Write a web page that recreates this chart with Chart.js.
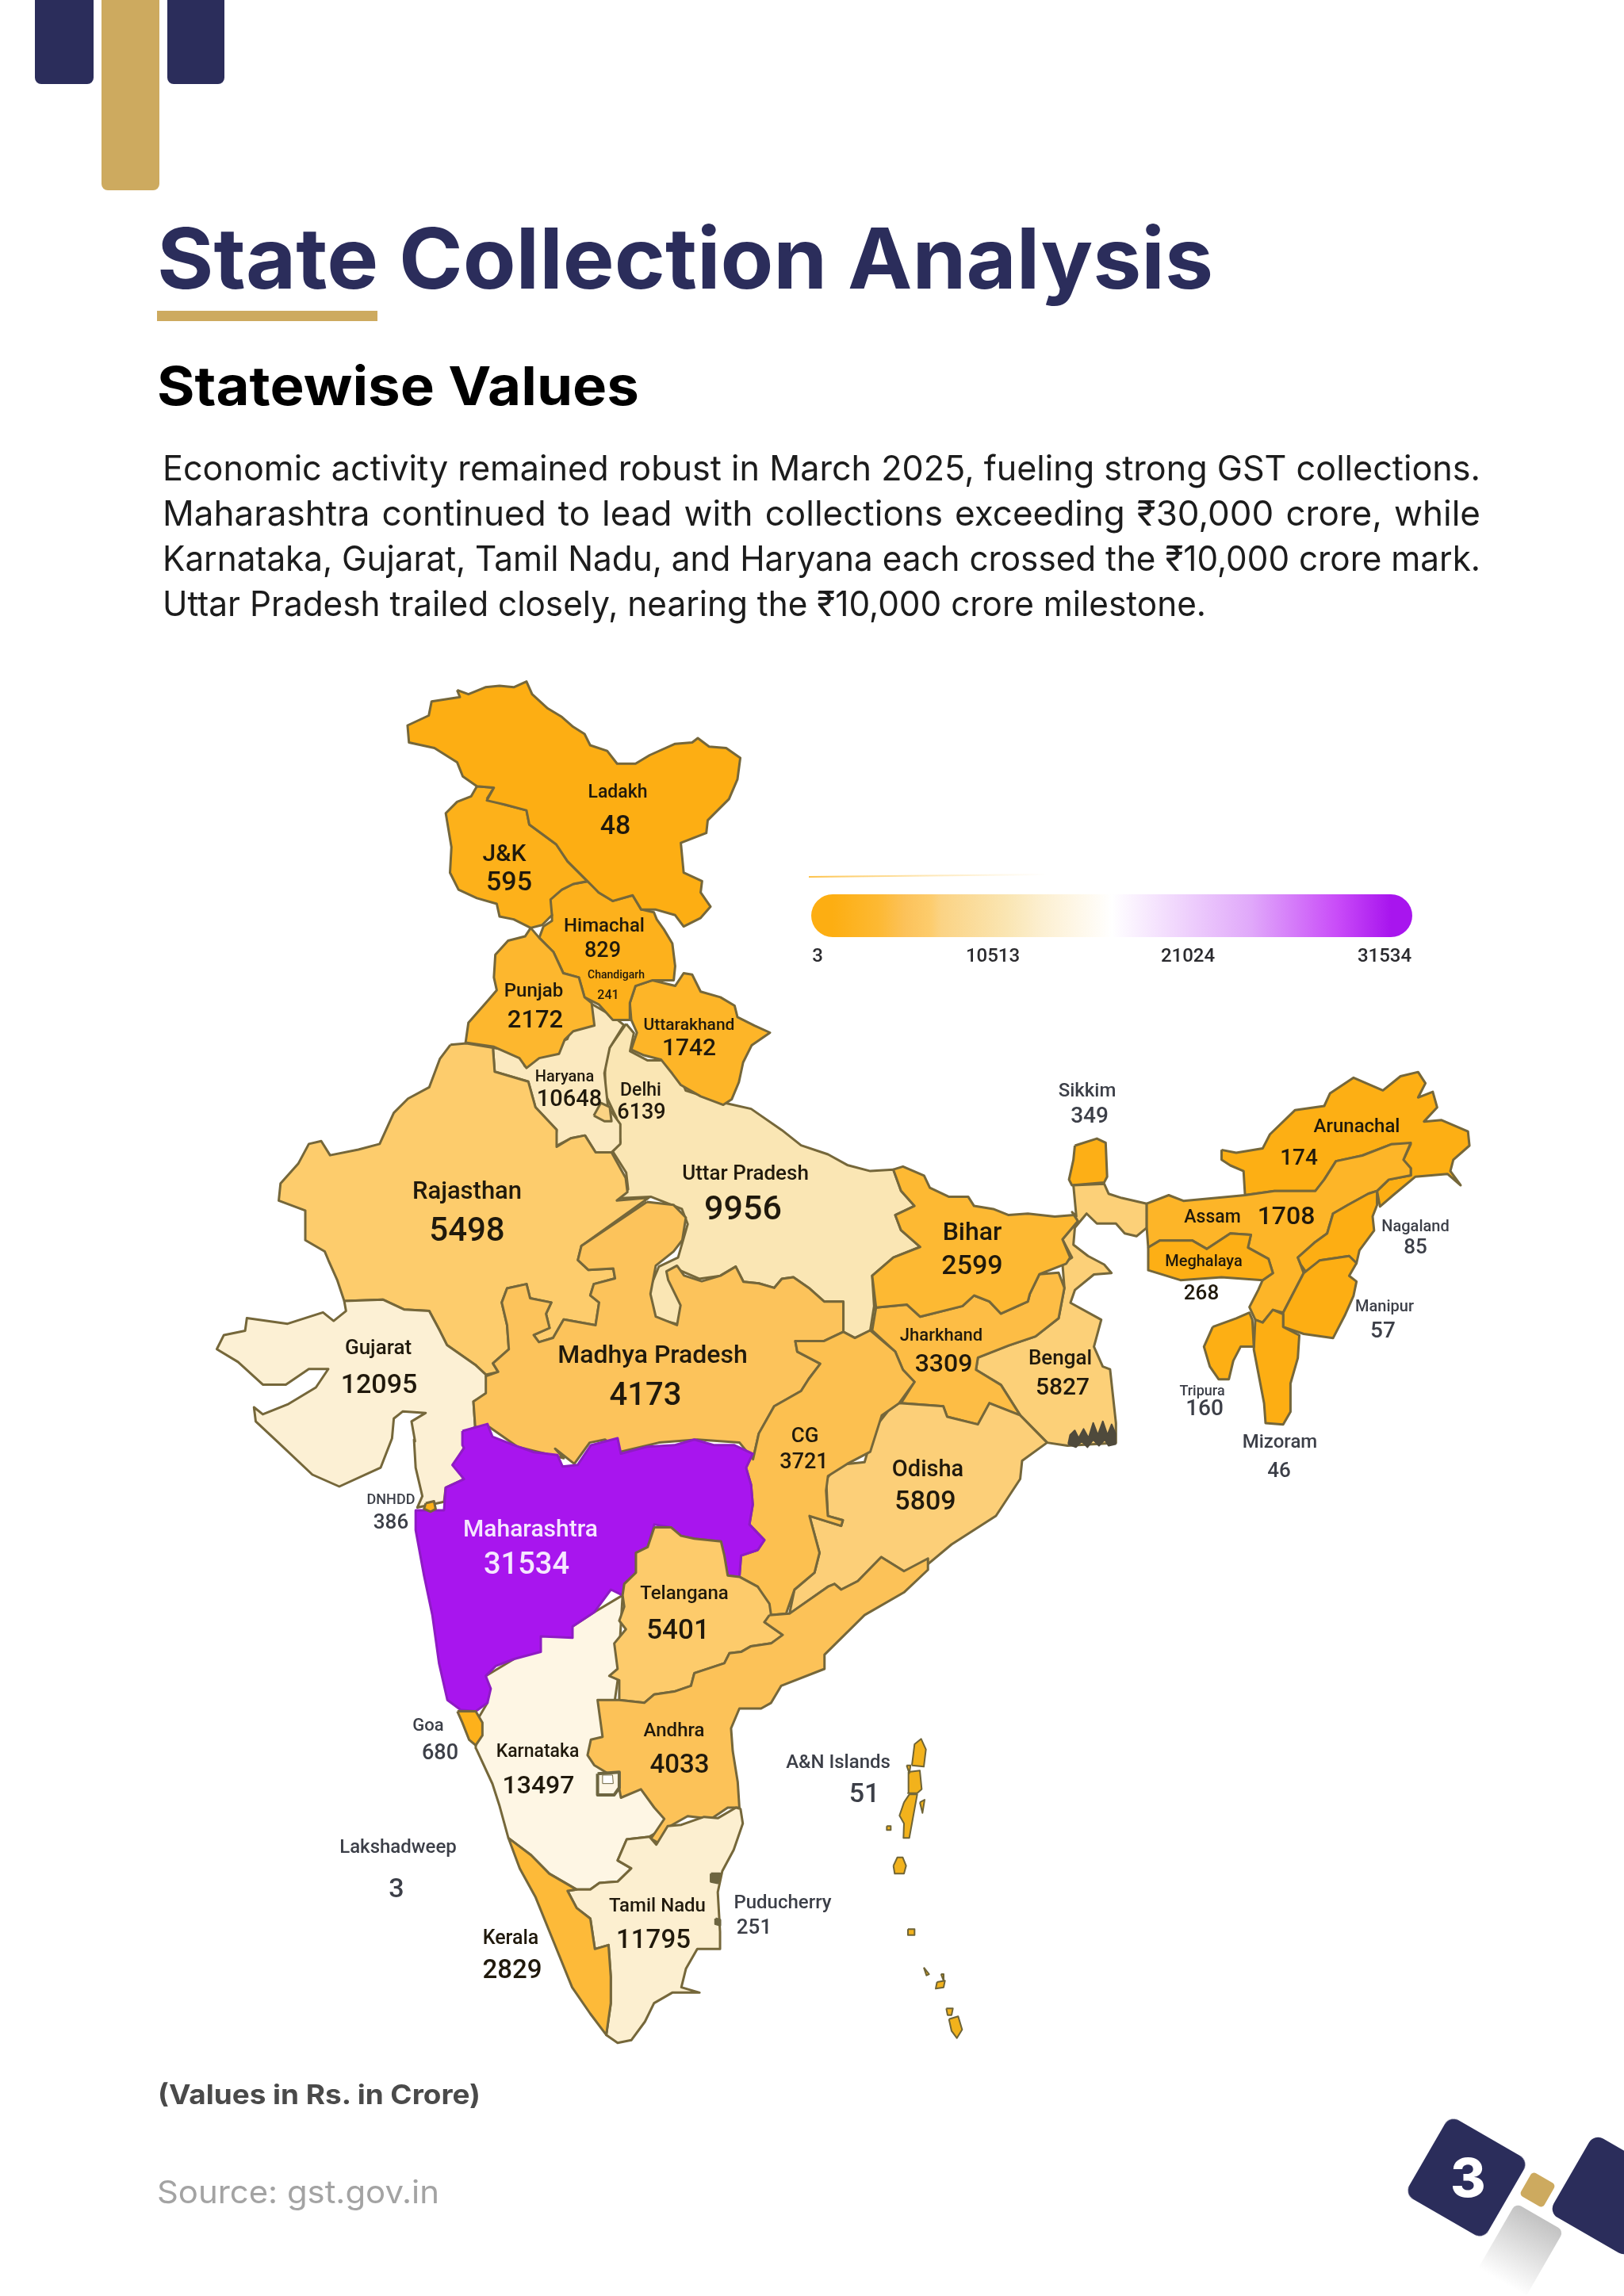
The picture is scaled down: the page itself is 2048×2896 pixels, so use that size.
<!DOCTYPE html>
<html><head><meta charset="utf-8">
<style>
html,body{margin:0;padding:0;background:#fff}
#page{position:relative;width:2048px;height:2896px;overflow:hidden;background:#fff}
#map{position:absolute;left:0;top:0}
.t{position:absolute;white-space:pre;transform-origin:0 0;line-height:1;font-family:Inter,"Noto Sans",sans-serif}
.b{position:absolute}
</style>
<script src="https://cdn.jsdelivr.net/npm/chart.js@4"></script>
</head><body><div id="page">
<div class="b" style="left:44px;top:-10px;width:74px;height:116px;background:#2B2D5B;border-radius:8px"></div>
<div class="b" style="left:211px;top:-10px;width:72px;height:116px;background:#2B2D5B;border-radius:8px"></div>
<div class="b" style="left:128px;top:-10px;width:73px;height:250px;background:#CDAA5F;border-radius:8px"></div>
<div class="b" style="left:198px;top:392px;width:278px;height:13px;background:#CDAA5F"></div>
<canvas id="map" width="2048" height="2896" style="width:2048px;height:2896px"></canvas>
<div class="b" style="left:1792px;top:2689px;width:115px;height:115px;background:#2B2D5B;border-radius:13px;transform:rotate(30deg)"></div>
<div class="b" style="left:1974px;top:2712px;width:115px;height:115px;background:#2B2D5B;border-radius:13px;transform:rotate(30deg)"></div>
<div class="b" style="left:1922px;top:2745px;width:34px;height:34px;background:#CDAA5F;border-radius:5px;transform:rotate(30deg)"></div>
<div class="b" style="left:1883px;top:2790px;width:70px;height:95px;background:linear-gradient(180deg,#c2c2c2,#ffffff);border-radius:8px 8px 0 0;transform:rotate(30deg)"></div>
<div class="t" data-fit="1332" style="left:198px;top:273px;font-size:106px;font-weight:700;color:#2B2D5B">State Collection Analysis</div>
<div class="t" data-fit="608" style="left:198px;top:452px;font-size:68px;font-weight:700;color:#000">Statewise Values</div>
<div class="t" data-justify="1662" style="left:205px;top:568px;font-size:44px;color:#1c1c1c">Economic activity remained robust in March 2025, fueling strong GST collections.</div>
<div class="t" data-justify="1662" style="left:205px;top:625px;font-size:44px;color:#1c1c1c">Maharashtra continued to lead with collections exceeding ₹30,000 crore, while</div>
<div class="t" data-justify="1662" style="left:205px;top:682px;font-size:44px;color:#1c1c1c">Karnataka, Gujarat, Tamil Nadu, and Haryana each crossed the ₹10,000 crore mark.</div>
<div class="t" data-justify="1316" style="left:205px;top:739px;font-size:44px;color:#1c1c1c">Uttar Pradesh trailed closely, nearing the ₹10,000 crore milestone.</div>
<div class="t" data-fit="407" style="left:199px;top:2625px;font-size:34px;font-weight:700;color:#4a4a4a">(Values in Rs. in Crore)</div>
<div class="t" data-fit="356" style="left:198px;top:2745px;font-size:40px;color:#a3a3a3">Source: gst.gov.in</div>
<div class="t" style="left:1829px;top:2712px;font-size:68px;font-weight:800;color:#fff">3</div>
</div>
<script>
// ---------- chart values ----------
const stateNames = ['Ladakh','J&K','Himachal','Chandigarh','Punjab','Uttarakhand','Haryana','Delhi','Rajasthan','Gujarat','Madhya Pradesh','Uttar Pradesh','Sikkim','Bihar','Jharkhand','Bengal','CG','Odisha','Arunachal','Assam','Nagaland','Meghalaya','Manipur','Tripura','Mizoram','Maharashtra','Telangana','DNHDD','Goa','Karnataka','Andhra','A&N Islands','Lakshadweep','Tamil Nadu','Puducherry','Kerala'];
const stateValues = [48,595,829,241,2172,1742,10648,6139,5498,12095,4173,9956,349,2599,3309,5827,3721,5809,174,1708,85,268,57,160,46,31534,5401,386,680,13497,4033,51,3,11795,251,2829];
const legendTicks = [3,10513,21024,31534];
const colourValues = [3,2600,4100,5500,6139,9956,11795,13497,15768,23651,28500,31534];
const colourStops = ['#FDAE12','#FDB933','#FCC25A','#FDCC6C','#FBD384','#FAE6B4','#FCEFD0','#FEF6E4','#FFFFFF','#E0A8FA','#C94CF8','#A815EE'];

// ---------- label anchors, in map units ----------
const nameAnchors = [[779,998],[636,1076],[762,1167],[777,1228],[673,1249],[869,1292],[712,1357],[808,1374],[589,1502],[477,1699],[823,1709],[940,1479],[1371,1375],[1226,1554],[1187,1683],[1337,1712],[1015,1810],[1170,1853],[1711,1420],[1529,1534],[1785,1546],[1518,1590],[1746,1647],[1516,1753],[1614,1818],[669,1928],[863,2009],[493,1890],[540,2175],[678,2208],[850,2182],[1057,2222],[502,2329],[829,2403],[987,2399],[644,2444]];
const valueAnchors = [[776,1041],[642,1112],[760,1198],[767,1254],[675,1286],[869,1321],[718,1386],[809,1402],[589,1552],[478,1746],[814,1760],[937,1525],[1374,1407],[1226,1596],[1190,1720],[1340,1749],[1014,1843],[1167,1893],[1638,1460],[1622,1534],[1785,1572],[1515,1630],[1744,1678],[1519,1776],[1613,1854],[664,1973],[855,2056],[493,1919],[555,2210],[679,2252],[857,2226],[1090,2262],[500,2382],[824,2447],[951,2430],[646,2485]];
const nameSizes = [23,30,24,14,24,21,20,23,31,26,32,26,24,32,22,26,26,29,24,23,20,20,20,18,24,30,24,18,22,23,24,24,24,24,24,25];
const valueSizes = [34,34,27,16,31,30,29,27,42,34,40,43,28,34,32,30,27,34,28,32,26,26,28,28,26,38,35,26,27,32,33,34,34,33,26,33];
const legendTickAnchors = [1031,1252,1498,1746];
const outsideLabels = ['Sikkim','Nagaland','Manipur','Tripura','Mizoram','DNHDD','Goa','A&N Islands','Lakshadweep','Puducherry'];

const view = (ox,oy,sx,sy) => flat => { const r=[]; for(let i=0;i<flat.length;i+=2) r.push({x:ox+flat[i]/sx,y:oy+flat[i+1]/sy}); return r; };
const n = view(480,840,2.8,2.8), w = view(260,1300,2.24,2.8), c = view(700,1280,2.063,2.613), e = view(1300,1320,2.703,2.8), s = view(480,1780,2.376,2.8), t = view(400,2100,1.742,3), a = view(1000,2150,3,3);

const outlines = [
['Uttar Pradesh', c([185,30,205,60,195,120,240,150,290,150,320,190,340,250,440,290,510,310,590,380,640,430,710,460,760,495,820,515,880,510,900,580,935,630,885,660,900,710,950,765,880,800,825,860,830,960,820,1040,780,1065,750,1045,750,945,700,945,660,900,620,865,590,870,570,900,530,885,490,880,470,830,430,860,375,870,320,840,305,880,335,970,320,1020,260,1000,240,920,270,830,320,800,345,690,330,640,250,600,160,605,190,575,185,520,150,450,170,420,160,340,130,260,130,130])],
['Haryana', w([810,60,815,145,910,180,930,270,990,350,985,410,1030,380,1070,370,1100,430,1145,430,1170,400,1170,330,1135,270,1125,150,1140,60,1180,-20,1150,-50,1084,-98,1040,-30,1020,30,960,60,900,125,880,75])],
['Delhi', w([1095,300,1115,255,1140,270,1145,320,1125,320])],
['Uttarakhand', n([885,1250,880,1190,900,1130,960,1110,1040,1130,1070,1085,1100,1090,1130,1150,1200,1170,1250,1200,1260,1240,1320,1270,1375,1295,1310,1340,1280,1400,1265,1470,1240,1530,1210,1550,1130,1520,1060,1480,1030,1440,990,1390,930,1375,885,1355,905,1295])],
['Himachal', n([590,825,640,790,680,770,735,760,770,800,820,830,890,810,920,860,965,870,975,895,1000,930,1030,980,1040,1060,1035,1110,960,1110,900,1130,880,1190,880,1250,820,1250,770,1195,720,1170,700,1100,645,1085,610,1010,560,960,575,920,605,900,605,880])],
['Punjab', n([530,925,560,960,610,1010,645,1085,700,1100,720,1170,745,1190,755,1270,680,1290,650,1320,630,1370,560,1385,515,1420,490,1385,400,1345,300,1330,310,1260,380,1180,410,1145,400,1100,405,1020,450,970,510,955])],
['J&K', n([375,470,440,490,515,510,525,560,620,630,660,690,730,760,680,770,640,790,600,825,605,880,570,915,530,925,470,895,420,885,410,840,340,820,275,790,245,730,250,640,230,520,270,480,320,460,340,425,400,430])],
['Ladakh', n([270,85,310,100,370,75,420,70,470,75,515,55,535,100,590,150,640,180,680,215,720,240,740,280,800,300,835,345,900,345,950,315,1040,275,1100,270,1120,255,1160,285,1220,290,1270,325,1260,400,1230,470,1190,510,1155,545,1150,590,1060,625,1070,730,1135,760,1130,800,1165,850,1130,890,1070,920,1040,880,970,860,920,860,890,810,820,830,770,800,730,760,660,690,620,630,525,560,515,510,440,490,375,475,400,430,340,425,290,390,270,340,190,290,100,270,95,210,170,175,180,125,280,110])],
['Rajasthan', w([690,50,735,45,810,60,815,145,910,180,930,270,990,350,990,410,1030,380,1070,370,1100,430,1145,430,1185,520,1190,570,1160,600,1250,590,1060,760,1050,810,1080,845,1150,840,1155,875,1095,895,1085,935,1110,960,1100,1040,1010,1020,980,1085,940,1100,925,1075,970,1050,960,1000,975,960,915,945,905,895,850,910,835,960,850,1040,855,1125,810,1175,825,1205,790,1215,760,1180,680,1110,660,1060,630,990,560,985,500,950,390,955,370,880,345,810,335,780,280,740,280,635,205,600,210,540,260,470,290,400,325,390,350,440,430,420,490,400,530,290,570,240,630,200,660,100])],
['Gujarat', [...w([390,955,500,950,560,985,630,990,660,1060,680,1110,760,1180,790,1215,800,1280,755,1310,760,1400,725,1420,730,1470,700,1530]),...s([250,240,195,270,190,320,110,340,125,300,105,200,100,100]),...w([590,1450,580,1380,620,1350,555,1345,530,1370,525,1440,493,1543,376,1610,300,1568,200,1450,140,1380,135,1330,160,1355,230,1320,310,1260,345,1195,290,1195,225,1250,160,1250,90,1170,30,1125,50,1075,110,1060,115,1015,230,1035,330,995,360,1025,395,990])]],
['Madhya Pradesh', [...w([1245,605,1320,615,1355,660,1345,740,1320,780,1270,830,1255,930,1270,1010,1330,1040,1340,970,1305,880,1300,850,1330,830,1350,865,1400,885]),...c([430,860,470,830,490,880,530,885,570,900,590,870,620,865,660,900,700,945,750,945,750,1045,700,1075,625,1075,630,1110,690,1150,660,1200,640,1240,570,1290,530,1380,515,1465,480,1410,370,1400,270,1410,170,1440,130,1400,90,1410,50,1480,0,1430]),...w([1010,1510,880,1470,800,1400,760,1400,755,1310,790,1280,790,1220,825,1205,810,1175,855,1125,850,1040,835,960,850,910,905,895,915,945,975,960,960,1000,970,1050,925,1075,940,1100,980,1085,1010,1020,1100,1040,1110,960,1085,935,1095,895,1155,875,1150,840,1080,845,1050,810,1060,760])]],
['Sikkim', e([150,350,225,325,255,340,260,460,250,480,140,490,130,470,145,400])],
['Bengal', [...e([145,490,250,485,265,520,310,535,395,555,395,640,360,670,320,660,290,625,225,625,190,590,150,640,145,700,195,740,250,770,275,800,215,805,150,860,135,905,240,965,215,1060,245,1130,270,1140,290,1330,290,1400,125,1410]),...c([1280,1410,1210,1320,1160,1220,1095,1170,1100,1130,1180,1090,1250,1060,1310,1000,1325,900,1320,820,1345,800,1320,740,1360,680,1345,650]),...e([155,600])]],
['Jharkhand', c([835,965,915,955,950,995,1060,960,1090,925,1130,945,1160,985,1230,945,1235,920,1260,855,1310,850,1325,900,1310,1000,1250,1060,1180,1090,1100,1130,1095,1170,1160,1220,1210,1320,1130,1280,1100,1350,1020,1325,1010,1290,900,1280,935,1210,905,1170,885,1110,825,1040])],
['Bihar', c([880,510,905,500,960,530,975,570,1025,600,1075,600,1090,630,1140,640,1180,660,1230,655,1300,665,1350,660,1360,680,1320,740,1340,800,1330,820,1260,855,1235,920,1230,945,1160,985,1130,945,1090,925,1060,960,950,995,915,955,835,965,825,860,880,800,950,765,900,710,885,660,935,630,900,580])],
['Odisha', [...c([895,1280,1010,1290,1020,1325,1100,1350,1130,1280,1210,1320,1280,1410,1215,1470,1210,1530]),{x:1256,y:1912},{x:1200,y:1948},...s([1640,540,1568,565,1500,515,1430,600,1380,630,1360,610,1340,620,1225,715,1240,630,1300,570,1315,500,1285,370,1380,405,1385,385,1340,370,1335,240,1370,190,1450,180,1480,60,1520,0]),...c([850,1320])]],
['CG', [...c([515,1465,530,1380,570,1290,640,1240,660,1200,690,1150,630,1110,625,1075,700,1075,750,1045,780,1065,820,1040,885,1110,905,1170,935,1210,895,1280,850,1320,820,1440,760,1480,710,1520,705,1568]),...s([1340,370,1385,385,1380,405,1285,370,1315,500,1300,570,1240,630,1215,715,1165,720,1130,620,1075,585,1080,510,1130,490,1150,455,1105,400,1115,330,1110,260,1095,200,1115,150])]],
['Karnataka', [...s([725,650,640,710,575,760,480,795,400,875,315,935,320,1030,285,1100,285,1190]),...t([350,320,385,450,400,530,420,655,470,720,510,790,570,850,600,850,620,825,660,820,690,770,660,740,680,660,730,650,770,610,750,500,640,300,660,60])]],
['Maharashtra', s([245,70,320,45,335,90,400,120,460,145,530,155,545,195,590,190,630,120,710,95,720,150,800,125,880,120,940,100,1000,120,1060,120,1115,150,1095,200,1110,260,1115,330,1105,400,1150,455,1130,490,1080,510,1075,585,1040,580,1030,510,1020,460,940,450,900,440,870,410,820,400,800,480,765,500,765,570,730,610,725,650,690,630,640,710,575,760,575,800,480,795,480,850,400,875,345,900,315,935,330,980,320,1030,285,1060,240,1055,200,1020,175,890,155,720,130,580,105,420,105,350,190,350,195,270,250,240,215,190,250,130,245,120])],
['Telangana', s([820,410,870,410,900,440,940,450,1020,460,1030,510,1040,580,1075,585,1130,620,1165,680,1170,720,1150,745,1205,790,1170,820,1110,830,1080,850,1045,855,1030,890,940,925,930,970,880,990,820,1000,790,1030,715,1020,715,950,685,935,710,910,700,820,735,770,715,740,730,690,725,650,730,610,765,570,765,500,800,480])],
['Andhra', s([1165,720,1225,715,1340,620,1360,610,1380,630,1430,600,1500,515,1568,565,1640,520,1640,560,1568,640,1450,720,1390,790,1330,860,1330,910,1200,970,1170,1030,1140,1050,1075,1050,1050,1120,1055,1200,1070,1310,1075,1400,1040,1400,990,1440,920,1430,860,1470,840,1530,810,1510,850,1440,820,1400,780,1335,720,1365,710,1300,640,1250,620,1215,630,1160,665,1150,650,1020,715,1020,790,1030,820,1000,880,990,930,970,940,925,1030,890,1045,855,1080,850,1110,830,1170,820,1205,790,1150,745])],
['Goa', s([230,1060,285,1060,305,1100,305,1145,285,1180,265,1160,245,1100])],
['Tamil Nadu', t([570,850,600,850,620,825,660,820,690,770,660,740,680,660,730,650,745,680,770,610,800,605,850,575,880,580,920,540,930,545,935,600,915,700,890,780,880,860,885,1010,885,1075,835,1075,810,1150,800,1220,840,1240,780,1240,740,1280,720,1350,690,1420,660,1430,635,1400,645,1280,645,1180,640,1060,610,1075,600,960,570,920,550,855])],
['Kerala', t([420,655,470,720,510,790,570,850,550,855,570,920,600,960,610,1075,640,1060,645,1180,645,1280,635,1400,600,1320,560,1220,520,1050,480,880,445,770])],
['Arunachal', e([650,365,700,375,790,360,815,310,900,225,1000,210,1020,165,1100,110,1200,155,1260,105,1320,90,1345,130,1320,180,1370,160,1385,215,1340,265,1400,260,1490,300,1495,350,1440,400,1430,440,1465,490,1420,450,1310,460,1235,525,1190,565,1180,510,1220,470,1295,455,1295,430,1270,400,1295,345,1230,345,1130,385,1040,405,1000,470,970,510,830,510,730,525,725,440,680,420,650,400])],
['Assam', e([395,555,470,525,520,545,730,525,830,510,970,510,1000,470,1040,405,1130,385,1230,345,1295,340,1270,400,1295,430,1295,455,1220,470,1180,510,1150,520,1080,560,1030,590,1010,660,970,690,910,745,930,800,890,880,860,940,825,930,790,975,765,965,745,920,775,860,790,825,825,800,810,750,740,710,750,665,680,660,600,715,550,685,440,685,400,710,395,640])],
['Nagaland', e([1180,510,1180,560,1165,600,1170,650,1120,720,1110,765,1085,740,985,755,940,800,920,770,910,745,970,690,1010,660,1030,590,1080,560,1150,520])],
['Manipur', e([985,755,1085,740,1110,765,1085,810,1110,830,1100,880,1070,950,1030,1030,930,1015,860,990,860,940,890,880,930,800])],
['Mizoram', e([765,965,790,975,825,930,860,945,860,990,915,1020,910,1100,885,1190,885,1290,860,1335,800,1330,795,1260,760,1070])],
['Tripura', e([620,990,700,960,745,940,755,965,760,1060,715,1060,690,1110,675,1175,640,1175,610,1130,590,1060])],
['Meghalaya', e([400,710,440,685,550,685,600,715,680,660,750,665,740,710,810,750,825,800,790,825,650,815,510,825,400,790])],
['DNHDD', s([135,325,160,318,165,345,150,355,130,345])],
['A&N Islands', a([450,230,460,150,485,130,503,170,495,235])],
['A&N Islands', a([437,255,480,250,487,320,470,335,435,335])],
['A&N Islands', a([420,370,440,340,470,340,450,450,440,505,418,505,420,450,403,420])],
['A&N Islands', a([480,370,498,360,490,410])],
['A&N Islands', a([380,610,395,578,415,578,428,610,420,640,385,640])],
['A&N Islands', a([435,850,460,850,460,872,435,872])],
['A&N Islands', a([495,995,515,1020,505,1025])],
['A&N Islands', a([545,1050,575,1045,570,1070,540,1075])],
['A&N Islands', a([560,1020,570,1020,570,1045])],
['A&N Islands', a([590,1190,625,1180,640,1230,620,1262,600,1235])],
['A&N Islands', a([580,1150,605,1150,600,1175,585,1175])],
['A&N Islands', a([355,460,370,460,370,475,355,475])],
['A&N Islands', a([430,230,445,230,440,260])],
['Puducherry', t([865,790,885,790,880,825,865,820])],
['Puducherry', t([875,960,885,965,885,985,875,980])]
];
const sundarbans = c([1335,1415,1340,1385,1352,1370,1362,1395,1375,1365,1388,1395,1400,1345,1412,1385,1425,1340,1437,1385,1448,1350,1458,1380,1458,1415,1440,1420,1430,1400,1415,1420,1400,1400,1385,1425,1370,1405,1355,1425]);
const bengaluruRing = s([650,1280,715,1275,715,1330,700,1355,650,1355]);
const bengaluruCore = s([665,1285,695,1285,697,1315,665,1315]);
const legendFade = [{x:1020,y:1106},{x:1320,y:1103}];

// ---------- helpers ----------
const hex = h => [1,3,5].map(i=>parseInt(h.substr(i,2),16));
function colourFor(v){
  let i=0; while(i<colourValues.length-2 && v>colourValues[i+1]) i++;
  const f=Math.min(1,Math.max(0,(v-colourValues[i])/(colourValues[i+1]-colourValues[i])));
  const A=hex(colourStops[i]),B=hex(colourStops[i+1]);
  return 'rgb('+A.map((q,k)=>Math.round(q+(B[k]-q)*f)).join(',')+')';
}
const BORDER='#75673A';
const closed = pts => [...pts, pts[0]];
const poly = (label,pts,fill,border,width) => ({label,data:closed(pts),showLine:true,fill:'shape',backgroundColor:fill,borderColor:border||BORDER,borderWidth:width||3,borderJoinStyle:'round',tension:0,pointRadius:0,pointHoverRadius:0});
const valueOf = name => stateValues[stateNames.indexOf(name)];

const datasets = outlines.map(([name,pts]) => {
  const d = poly(name,pts,colourFor(valueOf(name)));
  if(name==='Puducherry') { d.backgroundColor='#6d6540'; d.borderColor='#6d6540'; }
  if(name==='A&N Islands') { d.backgroundColor='#F2B21C'; d.borderColor='#6f6436'; d.borderWidth=2; }
  if(name==='Maharashtra') { d.borderColor='#8E1BC4'; }
  return d;
});
datasets.push(poly('Sundarbans',sundarbans,'#4f4a3c','#4f4a3c',2));
datasets.push(poly('Bengaluru',bengaluruRing,colourFor(valueOf('Karnataka')),'#6d6540',4));
datasets.push(poly('Bengaluru core',bengaluruCore,'#ffffff','#6d6540',1));
const scaleGrad = ctx => {
  const ch=ctx.chart; if(!ch.chartArea) return colourStops[0];
  const sc=ch.scales.xLegend, x0=sc.getPixelForValue(legendTicks[0]), x1=sc.getPixelForValue(legendTicks[3]);
  const g=ch.ctx.createLinearGradient(x0,0,x1,0);
  colourValues.forEach((v,i)=>g.addColorStop((v-3)/(31534-3),colourStops[i]));
  return g;
};
datasets.push({label:'Colour scale',xAxisID:'xLegend',data:[{x:legendTicks[0],y:1155},{x:legendTicks[3],y:1155}],showLine:true,borderColor:scaleGrad,borderWidth:54,borderCapStyle:'round',pointRadius:0,pointHoverRadius:0});
datasets.push({label:'Scale rule',data:legendFade,showLine:true,borderWidth:2,pointRadius:0,pointHoverRadius:0,borderColor:ctx=>{
  const ch=ctx.chart; if(!ch.chartArea) return '#FDAE12';
  const g=ch.ctx.createLinearGradient(1020,0,1320,0); g.addColorStop(0,'#FDC24A'); g.addColorStop(1,'rgba(253,220,140,0)'); return g;}});
// Chart.js paints the first dataset last, so the list is reversed to keep the trace order.
datasets.reverse();

const labelPlugin = {id:'stateLabels',afterDatasetsDraw(ch){
  const x=ch.scales.x,y=ch.scales.y,g=ch.ctx;
  g.save(); g.textAlign='center'; g.textBaseline='middle';
  stateNames.forEach((name,i)=>{
    const light=name==='Maharashtra';
    const out=outsideLabels.includes(name);
    g.fillStyle= light?'#F6E6FF':(out?'#3c3f48':'#20190c');
    g.font='500 '+nameSizes[i]+'px Roboto';
    g.fillText(name,x.getPixelForValue(nameAnchors[i][0]),y.getPixelForValue(nameAnchors[i][1])+2);
    g.font='500 '+valueSizes[i]+'px Roboto';
    g.fillText(String(stateValues[i]),x.getPixelForValue(valueAnchors[i][0]),y.getPixelForValue(valueAnchors[i][1])+2);
  });
  g.fillStyle='#2a2a2e'; g.font='500 24px Roboto';
  legendTicks.forEach((v,i)=>g.fillText(String(v),x.getPixelForValue(legendTickAnchors[i]),y.getPixelForValue(1207)));
  g.restore();
}};

new Chart(document.getElementById('map'),{
  type:'scatter',
  data:{datasets},
  plugins:[labelPlugin],
  options:{
    responsive:false,animation:false,devicePixelRatio:1,
    layout:{padding:0},
    plugins:{legend:{display:false},tooltip:{enabled:false},title:{display:false}},
    scales:{
      x:{type:'linear',min:0,max:2048,display:false},
      xLegend:{type:'linear',min:-47026,max:44702,display:false},
      y:{type:'linear',min:0,max:2896,reverse:true,display:false}
    }
  }
});

// ---------- fit page text to the widths in the reference ----------
document.fonts.ready.then(()=>{
  document.querySelectorAll('[data-fit]').forEach(el=>{
    const w=el.getBoundingClientRect().width; el.style.transform='scaleX('+(+el.dataset.fit/w)+')';
  });
  document.querySelectorAll('[data-justify]').forEach(el=>{
    const w=el.getBoundingClientRect().width, gaps=el.textContent.split(' ').length-1;
    const diff=+el.dataset.justify-w;
    if(diff>=0) el.style.wordSpacing=(diff/gaps)+'px'; else el.style.transform='scaleX('+(+el.dataset.justify/w)+')';
  });
});
</script>
</body></html>
